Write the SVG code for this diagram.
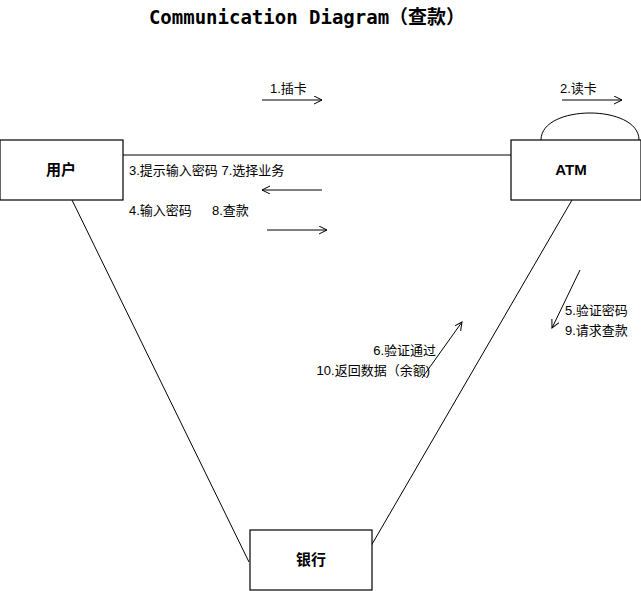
<svg xmlns="http://www.w3.org/2000/svg" width="641" height="591" viewBox="0 0 641 591">
<style>
.box{fill:#fff;stroke:#000;stroke-width:1.2}
.ln{stroke:#000;stroke-width:1;fill:none}
.ar{stroke:#000;stroke-width:1;fill:none;marker-end:url(#a)}
.t{font-family:"Liberation Sans","Noto Sans CJK SC",sans-serif;font-size:13px;fill:#000}
.b{font-family:"Liberation Sans","Noto Sans CJK SC",sans-serif;font-size:15px;font-weight:bold;text-anchor:middle}
</style>
<defs><marker id="a" markerWidth="10" markerHeight="10" refX="8" refY="4" orient="auto" markerUnits="userSpaceOnUse"><path d="M0,0 L8,4 L0,8" fill="none" stroke="#000"/></marker></defs>
<rect width="641" height="591" fill="#fff"/>
<text x="307" y="24" font-family="'DejaVu Sans Mono','Noto Sans CJK SC',monospace" font-size="19" font-weight="bold" text-anchor="middle">Communication Diagram（查款）</text>
<g id="connectors">
<line class="ln" x1="123" y1="155" x2="511" y2="155"/>
<path class="ln" d="M541,140 C541,104 639,104 639,140"/>
<line class="ln" x1="72" y1="200" x2="249" y2="562"/>
<line class="ln" x1="572" y1="200" x2="371" y2="546"/>
<line class="ar" x1="262" y1="100" x2="322" y2="100"/>
<line class="ar" x1="562" y1="100" x2="622" y2="100"/>
<line class="ar" x1="322" y1="190" x2="262" y2="190"/>
<line class="ar" x1="267" y1="230" x2="327" y2="230"/>
<line class="ar" x1="422" y1="378" x2="462" y2="322"/>
<line class="ar" x1="580" y1="270" x2="552" y2="328"/>
<text class="t" x="270" y="93">1.插卡</text>
<text class="t" x="560" y="93">2.读卡</text>
<text class="t" x="129" y="175">3.提示输入密码 7.选择业务</text>
<text class="t" x="129" y="215">4.输入密码</text>
<text class="t" x="212" y="215">8.查款</text>
<text class="t" x="565" y="315">5.验证密码</text>
<text class="t" x="565" y="335">9.请求查款</text>
<text class="t" x="436" y="355" text-anchor="end">6.验证通过</text>
<text class="t" x="430" y="375" text-anchor="end">10.返回数据（余额)</text>
</g>
<g id="user"><rect class="box" x="0" y="140" width="123" height="60"/><text class="b" x="61" y="175">用户</text></g>
<g id="atm"><rect class="box" x="511" y="140" width="130" height="60"/><text class="b" x="571" y="175">ATM</text></g>
<g id="bank"><rect class="box" x="250" y="530" width="122" height="60"/><text class="b" x="311" y="565">银行</text></g>
</svg>
